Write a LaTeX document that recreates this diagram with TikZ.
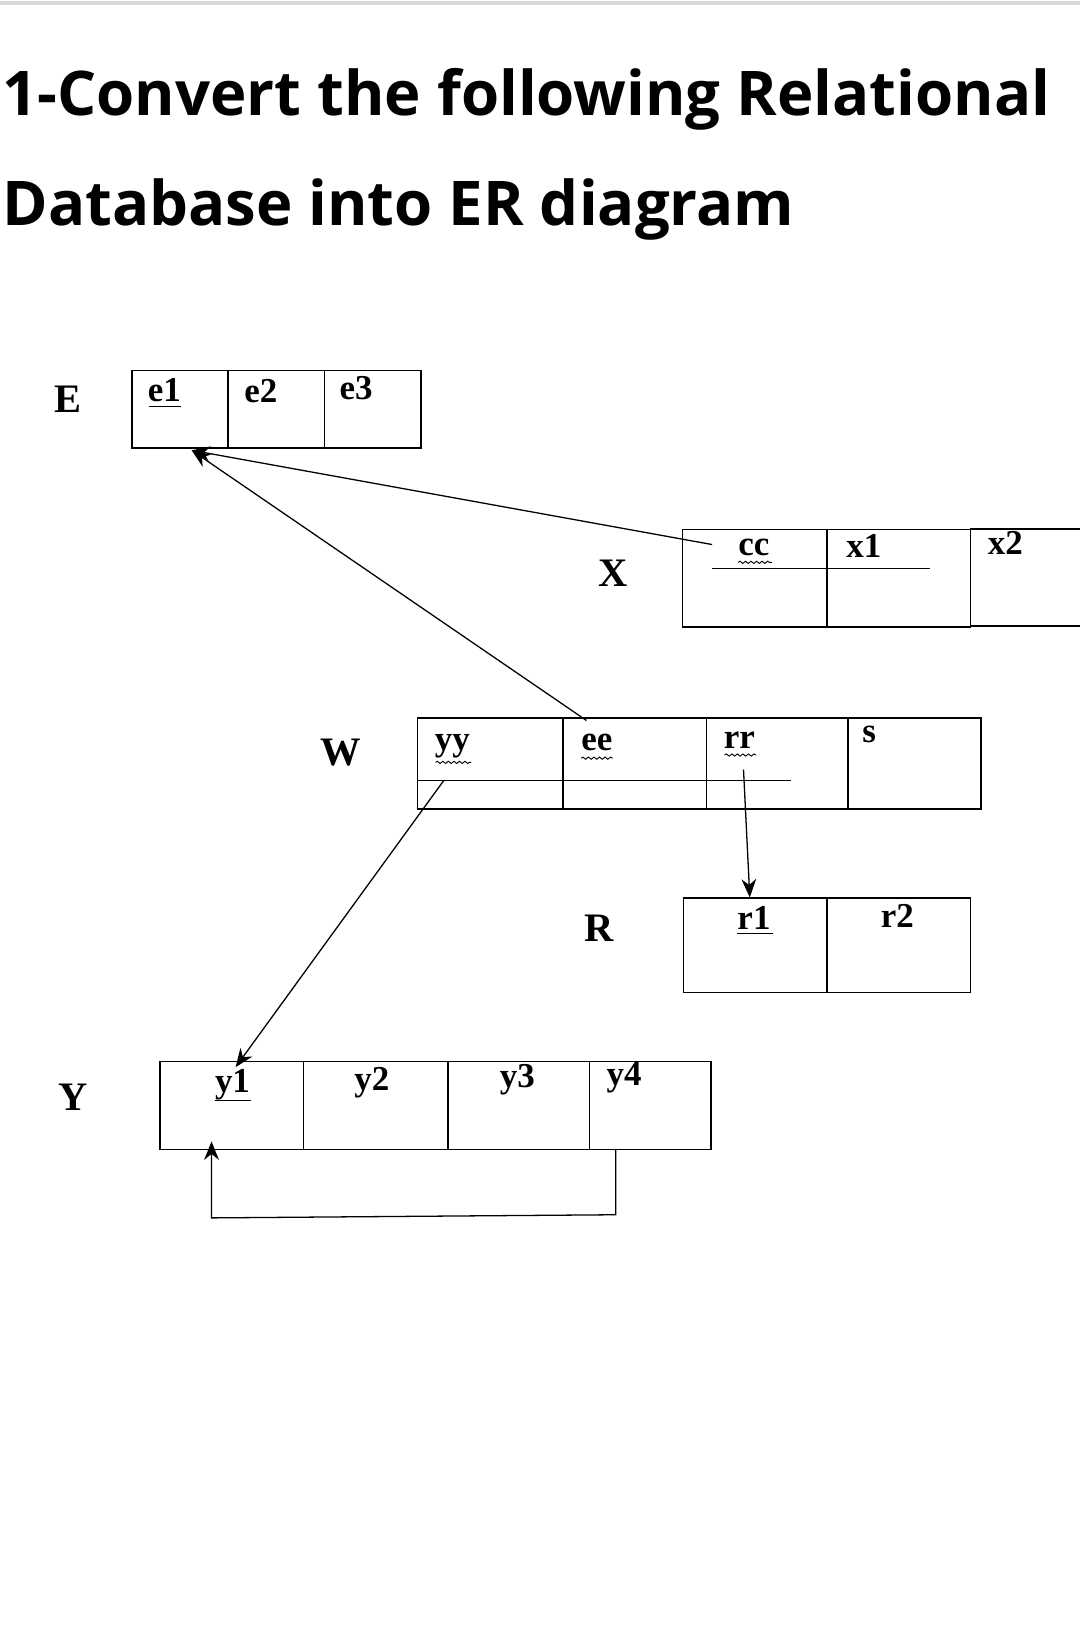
\documentclass[tikz,border=0pt]{standalone}
\usepackage{fontspec}
\setmainfont{Liberation Serif}
\newfontfamily\titlefont{Open Sans}
\usetikzlibrary{arrows.meta,decorations.pathmorphing}
\begin{document}
\begin{tikzpicture}[x=0.02cm,y=-0.02cm,
  cell/.style={draw,line width=0.9pt,inner sep=0pt,anchor=north west},
  lab/.style={font=\bfseries\fontsize{19}{22}\selectfont},
  tname/.style={font=\bfseries\fontsize{22}{26}\selectfont},
  fk/.style={line width=0.7pt,-{Stealth[length=10pt,width=8pt]}},
  ul/.style={line width=0.6pt},
  wav/.style={line width=0.5pt,decorate,decoration={snake,amplitude=0.6pt,segment length=3pt}}]
\useasboundingbox (0,0) rectangle (1031,1568);
\draw[gray!30,line width=2pt] (0,3) -- (1031,3);
\node[anchor=base west,inner sep=0pt,font=\titlefont\bfseries\fontsize{33.5}{38}\selectfont] (t1) at (2,110) {1-Convert the following Relational};
\node[anchor=base west,inner sep=0pt,font=\titlefont\bfseries\fontsize{33.5}{38}\selectfont] (t2) at (2,215) {Database into ER diagram};
% E
\node[tname] (E) at (65,381) {E};
\node[cell,minimum width=92*0.02cm,minimum height=74*0.02cm] (e1c) at (125,353) {};
\node[cell,minimum width=92*0.02cm,minimum height=74*0.02cm] (e2c) at (217,353) {};
\node[cell,minimum width=92*0.02cm,minimum height=74*0.02cm] (e3c) at (309,353) {};
\node[lab] (e1) at (157,373) {e1}; \draw[ul] (142,388) -- (173,388);
\node[lab] (e2) at (249,373) {e2};
\node[lab] (e3) at (340,371) {e3};
% X
\node[tname] (X) at (585,547) {X};
\node[cell,minimum width=138*0.02cm,minimum height=93*0.02cm] (xc1) at (651,505) {};
\node[cell,minimum width=137*0.02cm,minimum height=93*0.02cm] (xc2) at (789,505) {};
\node[cell,minimum width=105*0.02cm,minimum height=93*0.02cm,draw=none] (xc3) at (926,505) {};
\draw[line width=0.9pt] (926,505) -- (1031,505) (926,598) -- (1031,598);
\draw[line width=0.5pt] (680,543) -- (888,543);
\node[lab] (cc) at (720,523) {cc}; \draw[wav] (705,537) -- (737,537);
\node[lab] (x1) at (825,521) {x1};
\node[lab] (x2) at (960,518) {x2};
% W
\node[tname] (W) at (325,719) {W};
\node[cell,minimum width=139*0.02cm,minimum height=87*0.02cm] (wc1) at (398,685) {};
\node[cell,minimum width=137*0.02cm,minimum height=87*0.02cm] (wc2) at (537,685) {};
\node[cell,minimum width=135*0.02cm,minimum height=87*0.02cm] (wc3) at (674,685) {};
\node[cell,minimum width=127*0.02cm,minimum height=87*0.02cm] (wc4) at (809,685) {};
\draw[line width=0.5pt] (398,745) -- (755,745);
\node[lab] (yy) at (432,713) {yy}; \draw[wav] (416,728) -- (450,728);
\node[lab] (ee) at (570,709) {ee}; \draw[wav] (555,724) -- (585,724);
\node[lab] (rr) at (706,707) {rr}; \draw[wav] (692,721) -- (722,721);
\node[lab] (s) at (830,701) {s};
% R
\node[tname] (R) at (572,886) {R};
\node[cell,minimum width=137*0.02cm,minimum height=90*0.02cm] (rc1) at (652,857) {};
\node[cell,minimum width=137*0.02cm,minimum height=90*0.02cm] (rc2) at (789,857) {};
\node[lab] (r1) at (720,877) {r1}; \draw[ul] (704,891) -- (738,891);
\node[lab] (r2) at (857,875) {r2};
% Y
\node[tname] (Y) at (70,1048) {Y};
\node[cell,minimum width=137*0.02cm,minimum height=84*0.02cm] (yc1) at (152,1013) {};
\node[cell,minimum width=138*0.02cm,minimum height=84*0.02cm] (yc2) at (289,1013) {};
\node[cell,minimum width=135*0.02cm,minimum height=84*0.02cm] (yc3) at (427,1013) {};
\node[cell,minimum width=116*0.02cm,minimum height=84*0.02cm] (yc4) at (562,1013) {};
\node[lab] (y1) at (222,1036) {y1}; \draw[ul] (205,1051) -- (240,1051);
\node[lab] (y2) at (355,1034) {y2};
\node[lab] (y3) at (494,1031) {y3};
\node[lab] (y4) at (596,1029) {y4};
% connectors
\coordinate (ek) at (183,430);
\coordinate (ccs) at (680,520);
\coordinate (ees) at (560,688);
\coordinate (yys) at (424,745);
\coordinate (y1t) at (225,1019);
\coordinate (rrs) at (710,735);
\coordinate (r1t) at (716,857);
\coordinate (y4s) at (588,1097);
\coordinate (y1b) at (202,1090);
\draw[fk] (ccs) -- (ek);
\draw[fk] (ees) -- (ek);
\draw[fk] (yys) -- (y1t);
\draw[fk] (rrs) -- (r1t);
\draw[fk] (y4s) -- (588,1160) -- (202,1163) -- (y1b);
\end{tikzpicture}
\end{document}
